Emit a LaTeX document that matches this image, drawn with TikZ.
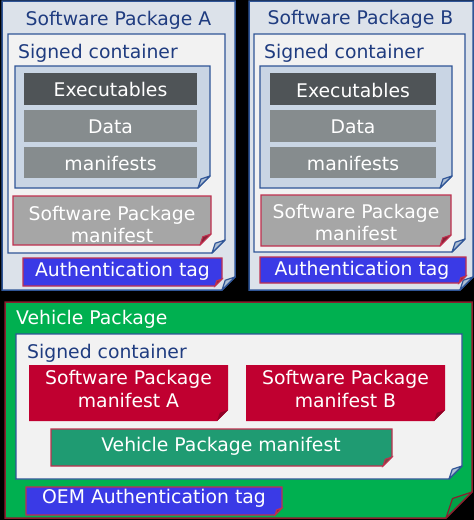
\documentclass[tikz,border=0pt]{standalone}
\usepackage{fontspec}
\setmainfont{DejaVu Sans}
\definecolor{pkgfill}{HTML}{DCE2EA}
\definecolor{pkgblue}{HTML}{2F5597}
\definecolor{titleblue}{HTML}{1F3C80}
\definecolor{scfill}{HTML}{F2F2F2}
\definecolor{contfill}{HTML}{C9D5E4}
\definecolor{foldblue}{HTML}{AEBFD4}
\definecolor{execfill}{HTML}{4F5457}
\definecolor{datafill}{HTML}{868C8E}
\definecolor{spmgray}{HTML}{A6A6A6}
\definecolor{crim}{HTML}{C0304F}
\definecolor{authblue}{HTML}{3A3AE6}
\definecolor{vgreen}{HTML}{00B050}
\definecolor{vborder}{HTML}{8B1E2E}
\definecolor{spmred}{HTML}{C00030}
\definecolor{spmfold}{HTML}{900025}
\definecolor{vpmfill}{HTML}{1F9B72}
\definecolor{vpmfold}{HTML}{7A4A44}
\definecolor{vfold}{HTML}{00A046}
\newcommand{\foldshape}[7]{%
  \path[#1] (#2,#3) -- (#4,#3) -- (#4,#5-#6) -- (#4-#6,#5) -- (#2,#5) -- cycle;
  \path[#7] (#4-#6,#5) -- (#4-0.75*#6,#5-0.75*#6) -- (#4,#5-#6) -- cycle;}
\tikzset{
  pkg/.style={fill=pkgfill,draw=pkgblue,line width=1.5pt},
  pkgfoldst/.style={fill=foldblue,draw=pkgblue,line width=1.2pt,line join=round},
  sc/.style={fill=scfill,draw=pkgblue,line width=1.3pt},
  cont/.style={fill=contfill,draw=pkgblue,line width=1.3pt},
  spmg/.style={fill=spmgray,draw=crim,line width=1.3pt},
  spmgfold/.style={fill=crim!70!black,draw=crim,line width=1pt,line join=round},
  auth/.style={fill=authblue,draw=crim,line width=1.3pt},
  authfold/.style={fill=crim!80!black,draw=crim,line width=1pt},
  veh/.style={fill=vgreen,draw=vborder,line width=1.5pt},
  vehfold/.style={fill=vfold,draw=vborder,line width=1.2pt,line join=round},
  spmr/.style={fill=spmred},
  spmrfold/.style={fill=spmfold},
  vpm/.style={fill=vpmfill,draw=crim,line width=1.3pt},
  vpmfoldst/.style={fill=vpmfold,draw=crim,line width=1pt},
  txt/.style={font=\fontsize{18.8}{22}\selectfont,inner sep=0pt,anchor=base},
  wtxt/.style={txt,text=white},
  btxt/.style={txt,text=titleblue},
}
\begin{document}
\begin{tikzpicture}[x=1pt,y=-1pt]
\fill[black] (0,0) rectangle (474,520);
\useasboundingbox (0,0) rectangle (474,520);
% ---------- Package A
\foldshape{pkg}{2}{1}{235}{290}{13}{pkgfoldst}
\foldshape{sc}{8}{34}{225}{253}{13}{pkgfoldst}
\foldshape{cont}{15}{66}{210}{188}{12}{pkgfoldst}
\fill[execfill] (24,73) rectangle (197,105);
\fill[datafill] (24,110) rectangle (197,142);
\fill[datafill] (24,147) rectangle (197,178);
\foldshape{spmg}{13}{196}{211}{245}{11}{spmgfold}
\foldshape{auth}{23}{258}{222}{286}{7}{authfold}
\node[btxt] (tA) at (118.5,25) {Software Package A};
\node[btxt,anchor=base west] (scA) at (18,58) {Signed container};
\node[wtxt] (exA) at (110.5,96.5) {Executables};
\node[wtxt] (daA) at (110.5,133) {Data};
\node[wtxt] (maA) at (110.5,170) {manifests};
\node[wtxt] (spA1) at (112,220) {Software Package};
\node[wtxt] (spA2) at (112,242) {manifest};
\node[wtxt] (auA) at (122.5,276) {Authentication tag};
% ---------- Package B
\foldshape{pkg}{249}{1}{473}{290}{13}{pkgfoldst}
\foldshape{sc}{254}{34}{465}{252}{13}{pkgfoldst}
\foldshape{cont}{260}{66}{452}{188}{12}{pkgfoldst}
\fill[execfill] (270,73) rectangle (436,105);
\fill[datafill] (270,110) rectangle (436,142);
\fill[datafill] (270,147) rectangle (436,178);
\foldshape{spmg}{261}{195}{451}{246}{11}{spmgfold}
\foldshape{auth}{260}{257}{466}{283}{7}{authfold}
\node[btxt] (tB) at (360.5,24.5) {Software Package B};
\node[btxt,anchor=base west] (scB) at (264,58) {Signed container};
\node[wtxt] (exB) at (353,97) {Executables};
\node[wtxt] (daB) at (353,133) {Data};
\node[wtxt] (maB) at (353,170) {manifests};
\node[wtxt] (spB1) at (356,218) {Software Package};
\node[wtxt] (spB2) at (356,240) {manifest};
\node[wtxt] (auB) at (362,275) {Authentication tag};
% ---------- Vehicle package
\foldshape{veh}{5}{302}{472}{518}{26}{vehfold}
\foldshape{sc}{16}{334}{462}{479}{13}{pkgfoldst}
\foldshape{spmr}{29}{365}{228}{421}{11}{spmrfold}
\foldshape{spmr}{246}{365}{445}{421}{11}{spmrfold}
\foldshape{vpm}{51}{429}{392}{466}{9}{vpmfoldst}
\foldshape{auth}{26}{487}{282}{515}{7}{authfold}
\node[wtxt,anchor=base west] (tV) at (16,324) {Vehicle Package};
\node[btxt,anchor=base west] (scV) at (27,358) {Signed container};
\node[wtxt] (spVA1) at (128.5,384) {Software Package};
\node[wtxt] (spVA2) at (128.5,407) {manifest A};
\node[wtxt] (spVB1) at (345.5,384) {Software Package};
\node[wtxt] (spVB2) at (345.5,407) {manifest B};
\node[wtxt] (vpm) at (221,451) {Vehicle Package manifest};
\node[wtxt] (oem) at (154,503) {OEM Authentication tag};
\end{tikzpicture}
\end{document}
